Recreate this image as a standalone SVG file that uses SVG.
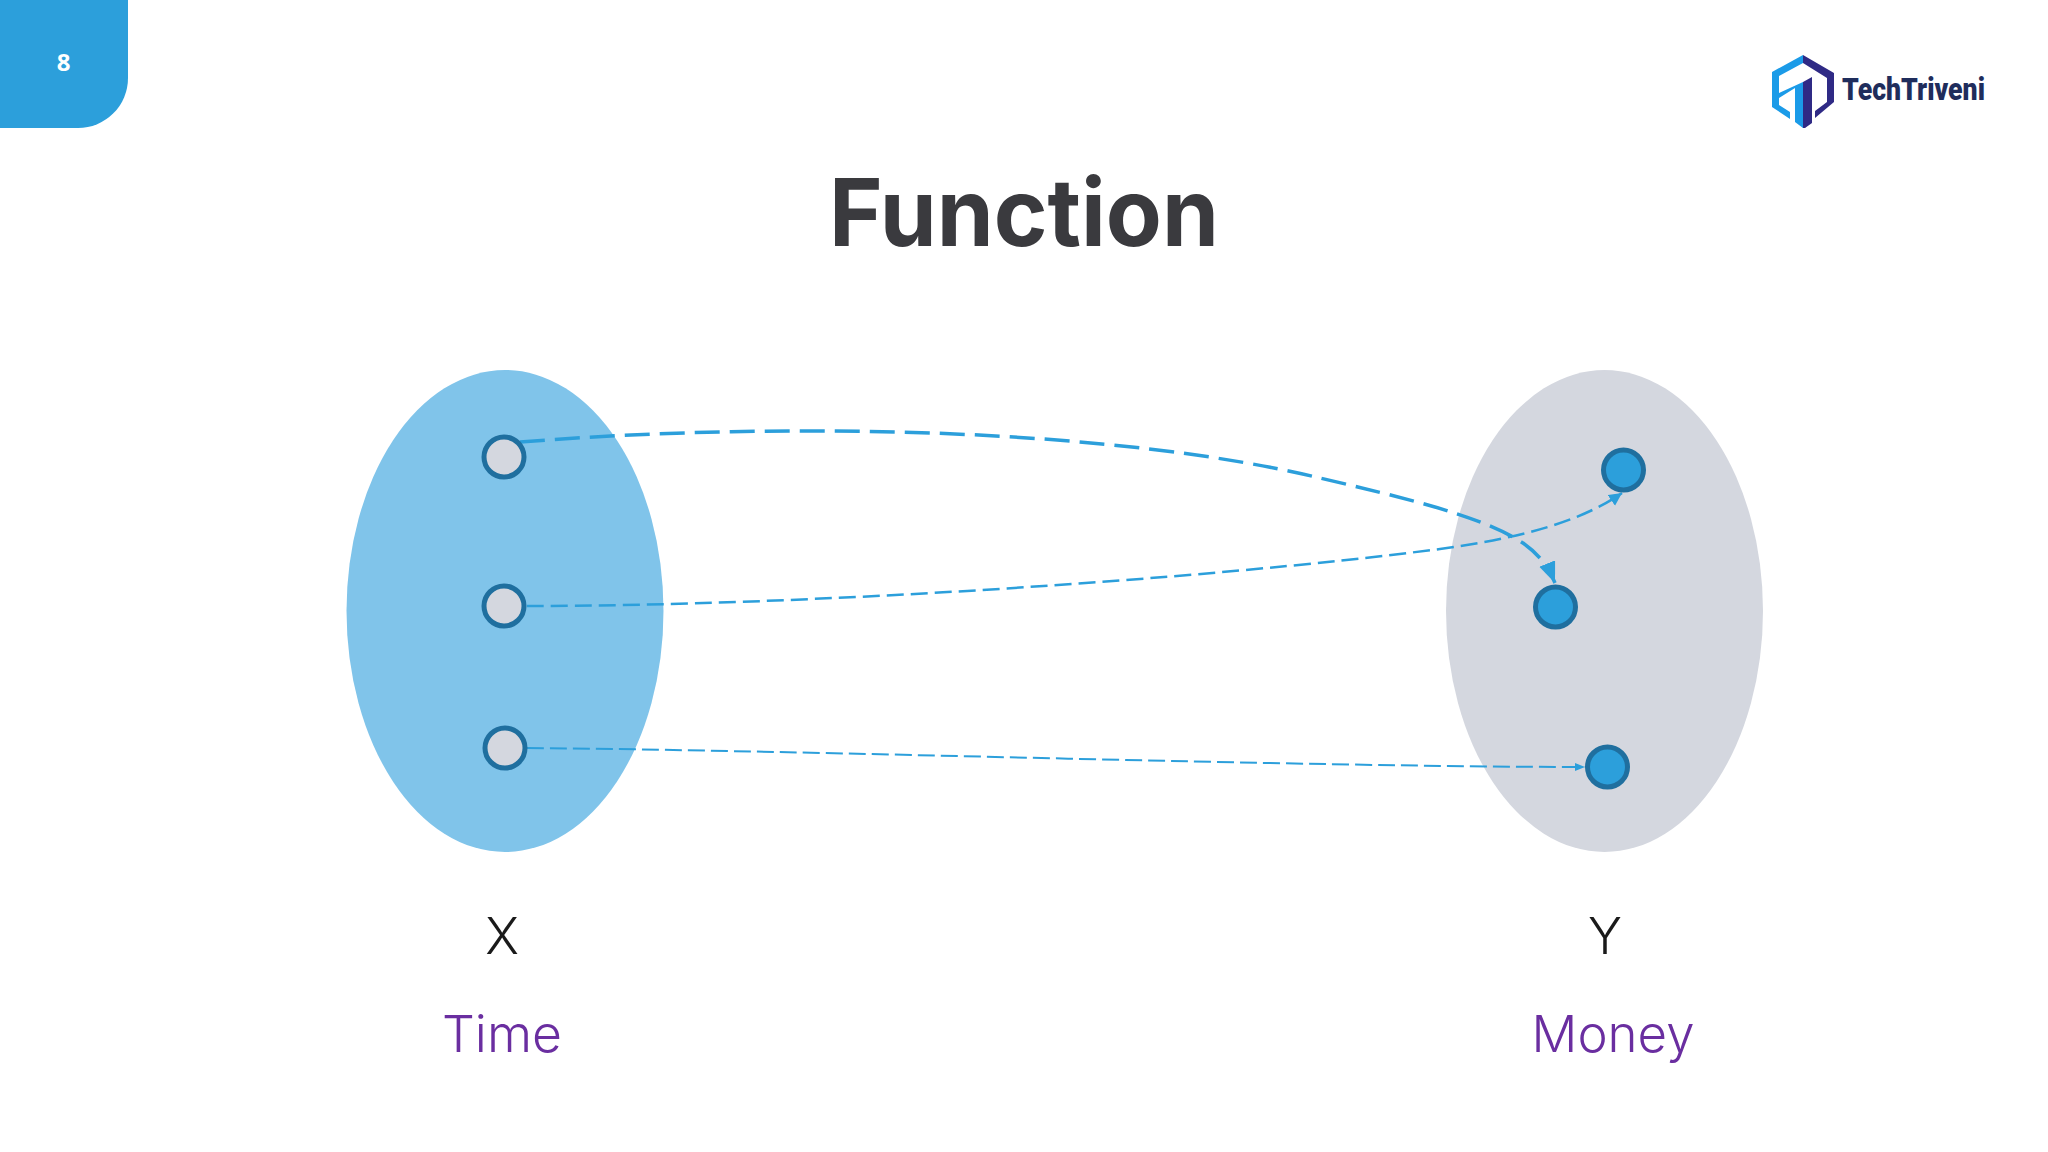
<svg xmlns="http://www.w3.org/2000/svg" width="2048" height="1152" viewBox="0 0 2048 1152">
<style>
.set{stroke:none}
.dot{stroke:#1f6f9f;stroke-width:5}
.in{fill:#d4d7df}
.out{fill:#2c9fdb}
.c{fill:none;stroke:#2c9fdb}
.lab{font-family:"Inter","Lato",sans-serif;font-size:51px;font-weight:300;text-anchor:middle}
</style>
<defs>
<marker id="a1" markerUnits="userSpaceOnUse" markerWidth="24" markerHeight="24" refX="21" refY="8.500" orient="auto"><path d="M0 0L21 8.500L0 17Z" fill="#2c9fdb"/></marker>
<marker id="a2" markerUnits="userSpaceOnUse" markerWidth="16" markerHeight="16" refX="13" refY="6.500" orient="auto"><path d="M0 0L13 6.500L0 13Z" fill="#2c9fdb"/></marker>
<marker id="a3" markerUnits="userSpaceOnUse" markerWidth="12" markerHeight="12" refX="10" refY="4" orient="auto"><path d="M0 0L10 4L0 8Z" fill="#2c9fdb"/></marker>
</defs>
<rect width="2048" height="1152" fill="#fff"/>
<g id="badge"><path d="M0 0H128V78A50 50 0 0 1 78 128H0Z" fill="#2c9fdb"/><text x="63.500" y="71" font-family="'Open Sans',sans-serif" font-size="24" font-weight="700" fill="#fff" text-anchor="middle">8</text></g>
<g id="logo">
<path d="M1772 72L1803 55V63L1779 76V93L1803 82V128L1795 122V88L1779 98V105L1790 112V119L1772 107Z" fill="#1b9be8"/>
<path d="M1803 55L1834 73V102L1815 118V111L1827 102V78L1803 63ZM1803 82L1812 77V123L1805 128H1803Z" fill="#2f2a85"/>
<text x="1842" y="100" font-family="'Roboto','Liberation Sans',sans-serif" font-size="32" font-weight="900" fill="#1f2d5c" textLength="143" lengthAdjust="spacingAndGlyphs">TechTriveni</text>
</g>
<text id="title" x="1024" y="246" font-family="'Inter','Lato',sans-serif" font-size="94" font-weight="700" fill="#3a3a3e" text-anchor="middle" textLength="390" lengthAdjust="spacingAndGlyphs" style="font-variant-ligatures:none">Function</text>
<g id="set-x"><ellipse class="set" cx="505" cy="611" rx="158.500" ry="241" fill="#80c4ea"/></g>
<g id="set-y"><ellipse class="set" cx="1604.500" cy="611" rx="158.500" ry="241" fill="#d4d7df"/></g>
<g id="connectors">
<path class="c" stroke-width="3.500" stroke-dasharray="25 10" d="M520 442C800 420 1120 430 1320 478C1400 497 1480 515 1523 543C1540 555 1549 568 1555 583" marker-end="url(#a1)"/>
<path class="c" stroke-width="2.500" stroke-dasharray="17 7" d="M527 606C800 606 1200 580 1440 549C1520 538 1580 522 1622 493" marker-end="url(#a2)"/>
<path class="c" stroke-width="2" stroke-dasharray="17 6" d="M527 748C800 750 1300 767 1585 767" marker-end="url(#a3)"/>
</g>
<g id="x1"><circle class="dot in" cx="504" cy="457" r="20"/></g>
<g id="x2"><circle class="dot in" cx="504" cy="606" r="20"/></g>
<g id="x3"><circle class="dot in" cx="505" cy="748" r="20"/></g>
<g id="y1"><circle class="dot out" cx="1623.500" cy="470" r="20"/></g>
<g id="y2"><circle class="dot out" cx="1555.500" cy="607" r="20"/></g>
<g id="y3"><circle class="dot out" cx="1607.500" cy="767" r="20"/></g>
<text class="lab" x="502" y="954" fill="#1a1a1a">X</text>
<text class="lab" x="1605" y="954" fill="#1a1a1a">Y</text>
<text class="lab" x="502" y="1052" fill="#6a2ea0" textLength="120" lengthAdjust="spacingAndGlyphs">Time</text>
<text class="lab" x="1613" y="1052" fill="#6a2ea0" textLength="163" lengthAdjust="spacingAndGlyphs">Money</text>
</svg>
